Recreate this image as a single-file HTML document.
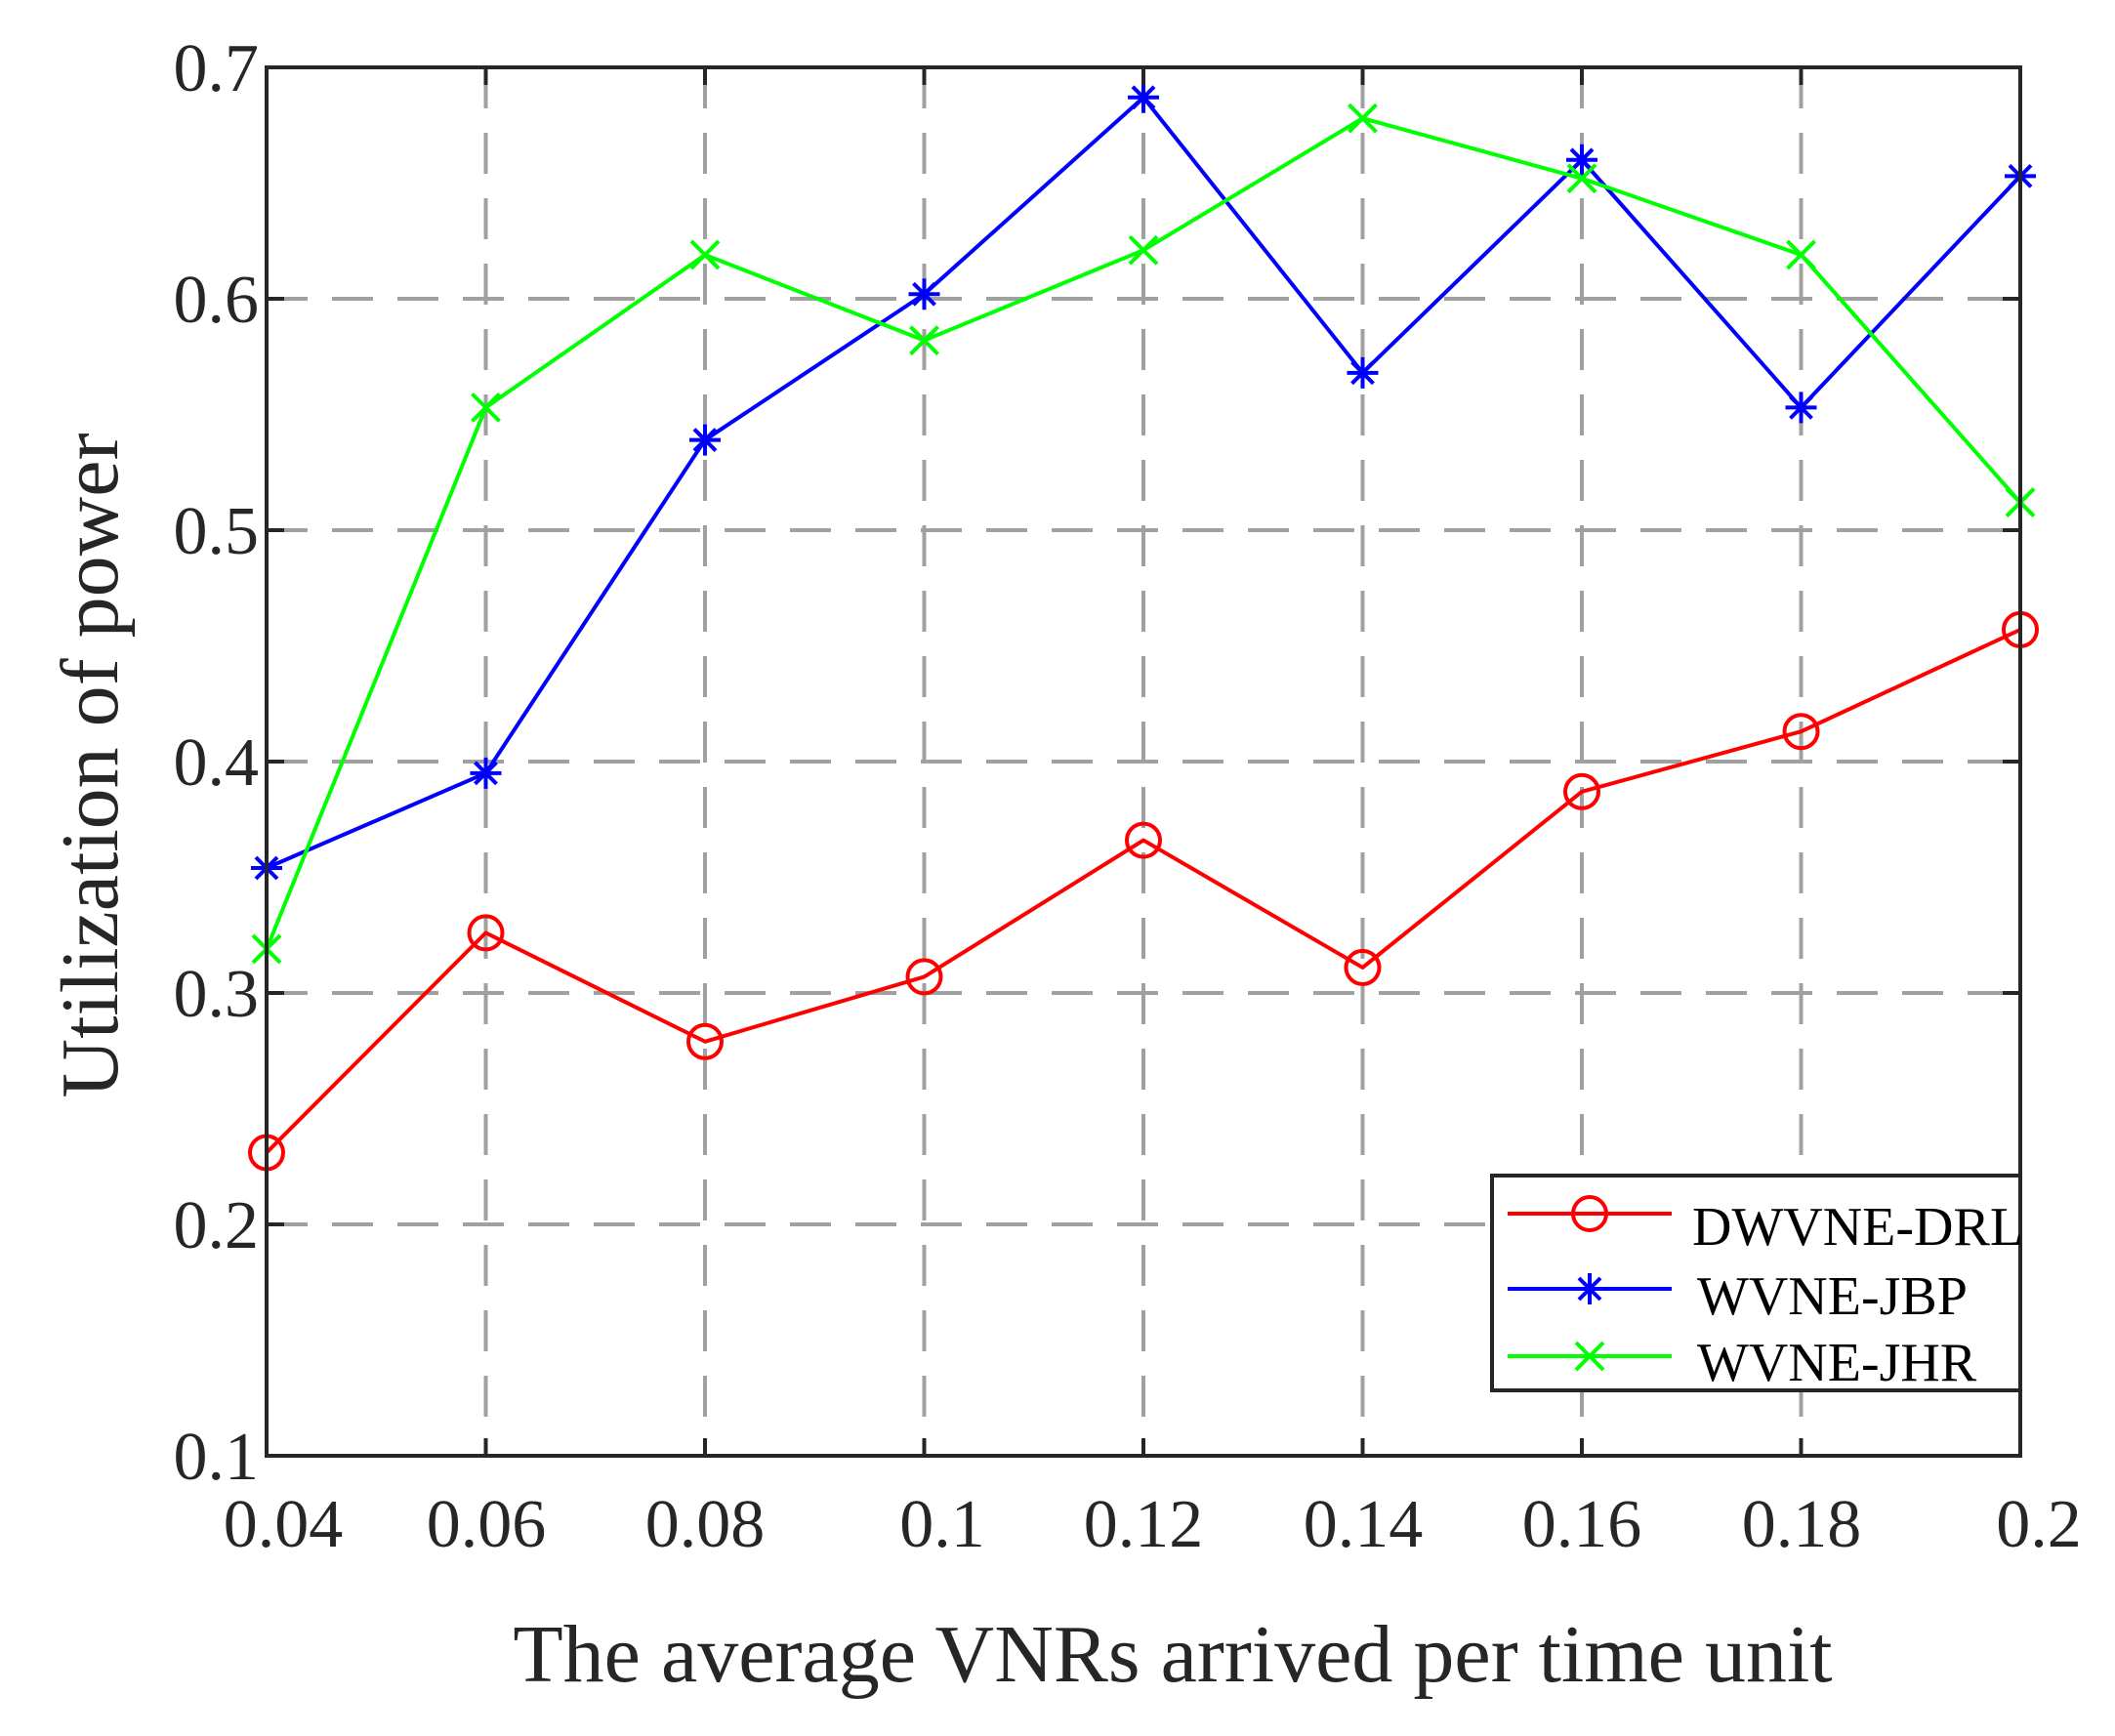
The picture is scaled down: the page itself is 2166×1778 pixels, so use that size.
<!DOCTYPE html>
<html><head><meta charset="utf-8"><style>
html,body{margin:0;padding:0;background:#fff}
svg text{font-family:"Liberation Serif",serif;fill:#262626}
</style></head><body>
<svg id="s" width="2166" height="1773" viewBox="0 0 2166 1773" xmlns="http://www.w3.org/2000/svg">
<rect width="2166" height="1773" fill="#fff"/>
<g id="grid" stroke="#a0a0a0" stroke-width="4" stroke-dasharray="42,25"></g>
<g id="series"></g>
<rect x="273" y="69" width="1796" height="1422" fill="none" stroke="#262626" stroke-width="4"/>
<g id="ticks" stroke="#262626" stroke-width="4"></g>
<g font-size="70" text-anchor="end">
<text x="265" y="93">0.7</text>
<text x="265" y="330">0.6</text>
<text x="265" y="567">0.5</text>
<text x="265" y="804">0.4</text>
<text x="265" y="1041">0.3</text>
<text x="265" y="1278">0.2</text>
<text x="265" y="1515">0.1</text>
</g>
<g font-size="70" text-anchor="middle">
<text x="290" y="1584">0.04</text>
<text x="498" y="1584">0.06</text>
<text x="722" y="1584">0.08</text>
<text x="965" y="1584">0.1</text>
<text x="1171" y="1584">0.12</text>
<text x="1396" y="1584">0.14</text>
<text x="1620" y="1584">0.16</text>
<text x="1845" y="1584">0.18</text>
<text x="2088" y="1584">0.2</text>
</g>
<text x="1201" y="1722" font-size="84" text-anchor="middle">The average VNRs arrived per time unit</text>
<text transform="translate(120,784) rotate(-90)" font-size="84" text-anchor="middle">Utilization of power</text>
<rect x="1528" y="1204" width="541" height="220" fill="#fff" stroke="#262626" stroke-width="4"/>
<g id="leg"></g>
<g font-size="56">
<text x="1733" y="1275" style="fill:#000">DWVNE-DRL</text>
<text x="1738" y="1346" style="fill:#000">WVNE-JBP</text>
<text x="1738" y="1414" style="fill:#000">WVNE-JHR</text>
</g>
</svg>
<script>
var NS="http://www.w3.org/2000/svg";
function el(p,t,a){var e=document.createElementNS(NS,t);for(var k in a)e.setAttribute(k,a[k]);p.appendChild(e);return e;}
var L=273,R=2069,T=69,B=1491,dx=(R-L)/8,dy=(B-T)/6;
var g=document.getElementById('grid'),tk=document.getElementById('ticks');
for(var i=1;i<8;i++){var x=L+i*dx;el(g,'line',{x1:x,y1:T,x2:x,y2:B});el(tk,'line',{x1:x,y1:B,x2:x,y2:B-18});el(tk,'line',{x1:x,y1:T,x2:x,y2:T+18});}
for(var j=1;j<6;j++){var y=T+j*dy;el(g,'line',{x1:L,y1:y,x2:R,y2:y});el(tk,'line',{x1:L,y1:y,x2:L+18,y2:y});el(tk,'line',{x1:R,y1:y,x2:R-18,y2:y});}
function Y(v){return B-(v-0.1)*10*dy;}
var data=[
 ['#ff0000','o',[0.231,0.326,0.279,0.307,0.366,0.311,0.387,0.413,0.457]],
 ['#0000ff','*',[0.354,0.395,0.539,0.602,0.687,0.568,0.660,0.553,0.653]],
 ['#00ff00','x',[0.319,0.553,0.619,0.582,0.621,0.678,0.652,0.619,0.512]]];
var s=document.getElementById('series'),lg=document.getElementById('leg');
function mark(p,c,m,x,y){
 if(m=='o')el(p,'circle',{cx:x,cy:y,r:17,fill:'none',stroke:c,'stroke-width':4});
 else if(m=='x'){var r=14;el(p,'path',{d:'M'+(x-r)+' '+(y-r)+'L'+(x+r)+' '+(y+r)+'M'+(x-r)+' '+(y+r)+'L'+(x+r)+' '+(y-r),stroke:c,'stroke-width':4});}
 else {var r=16,q=11;el(p,'path',{d:'M'+x+' '+(y-r)+'V'+(y+r)+'M'+(x-r)+' '+y+'H'+(x+r)+'M'+(x-q)+' '+(y-q)+'L'+(x+q)+' '+(y+q)+'M'+(x-q)+' '+(y+q)+'L'+(x+q)+' '+(y-q),stroke:c,'stroke-width':4});}
}
data.forEach(function(d,k){
 var pts=d[2].map(function(v,i){return (L+i*dx)+','+Y(v);}).join(' ');
 el(s,'polyline',{points:pts,fill:'none',stroke:d[0],'stroke-width':4,'stroke-linejoin':'round'});
 d[2].forEach(function(v,i){mark(s,d[0],d[1],L+i*dx,Y(v));});
 var ly=[1243,1320,1389][k];
 el(lg,'line',{x1:1544,y1:ly,x2:1712,y2:ly,stroke:d[0],'stroke-width':4});
 mark(lg,d[0],d[1],1628,ly);
});
</script>
</body></html>
